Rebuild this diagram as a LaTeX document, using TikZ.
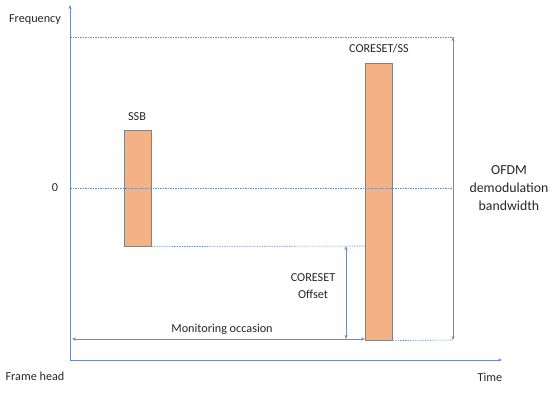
\documentclass[tikz,border=0pt]{standalone}
\usepackage{fontspec}
\setmainfont{Carlito}
\usetikzlibrary{arrows.meta}
\definecolor{axisblue}{RGB}{110,140,196}
\definecolor{boxfill}{RGB}{244,177,131}
\definecolor{boxline}{RGB}{130,130,130}
\tikzset{
  axisline/.style={draw=axisblue, line width=0.7pt},
  guideline/.style={draw=axisblue, line width=0.6pt, dash pattern=on 1.5pt off 1pt},
  tipend/.style={-{Stealth[length=4pt,width=3.2pt]}},
  twotip/.style={{Stealth[length=4pt,width=3.2pt]}-{Stealth[length=4pt,width=3.2pt]}},
  bar/.style={draw=boxline, fill=boxfill, line width=0.6pt, inner sep=0pt, anchor=north west},
  lbl/.style={font=\fontsize{12.2}{15}\selectfont, text=black!85, inner sep=1pt, align=center}
}
\begin{document}
\begin{tikzpicture}[x=1pt,y=-1pt]
\useasboundingbox (0,0) rectangle (554,392);
% axes
\coordinate (orig) at (70,360);
\coordinate (ytop) at (70,5);
\coordinate (xend) at (502,360);
\draw[axisline,tipend] (orig) -- (ytop);
\draw[axisline,tipend] (orig) -- (xend);
% bars
\node[bar, minimum width=27pt, minimum height=116pt] (ssb) at (124,130) {};
\node[bar, minimum width=27pt, minimum height=277pt] (cs) at (365,63) {};
% guide lines
\coordinate (topl) at (70,37);
\coordinate (topr) at (453,37);
\coordinate (zl) at (70,188);
\coordinate (zr) at (453,188);
\coordinate (botr) at (453,340);
\coordinate (offl) at (365,246);
\draw[guideline] (topl) -- (topr);
\draw[guideline] (zl) -- (zr);
\draw[guideline] (ssb.south east) -- (offl);
\draw[guideline] (cs.south east) -- (botr);
% OFDM arrow
\draw[axisline,twotip] (botr) -- (topr);
% coreset offset arrow
\coordinate (offtop) at (346,246);
\coordinate (offbot) at (346,339);
\draw[axisline,twotip] (offbot) -- (offtop);
% monitoring occasion arrow
\coordinate (monl) at (72,339);
\draw[axisline,twotip] (monl) -- (cs.south west |- monl);
% labels
\node[lbl] (freq) at (35,20) {Frequency};
\node[lbl] (zero) at (55,188) {0};
\node[lbl] (ssbl) at (137,117) {SSB};
\node[lbl] (csl) at (379,49) {CORESET/SS};
\node[lbl, font=\fontsize{12.2}{17}\selectfont] (offl2) at (313,286) {CORESET\\Offset};
\node[lbl] (moni) at (222,329) {Monitoring occasion};
\node[lbl, font=\fontsize{13.8}{18}\selectfont] (ofdm) at (509,188) {OFDM\\demodulation\\bandwidth};
\node[lbl] (frame) at (35,376) {Frame head};
\node[lbl] (time) at (490,377) {Time};
\end{tikzpicture}
\end{document}
